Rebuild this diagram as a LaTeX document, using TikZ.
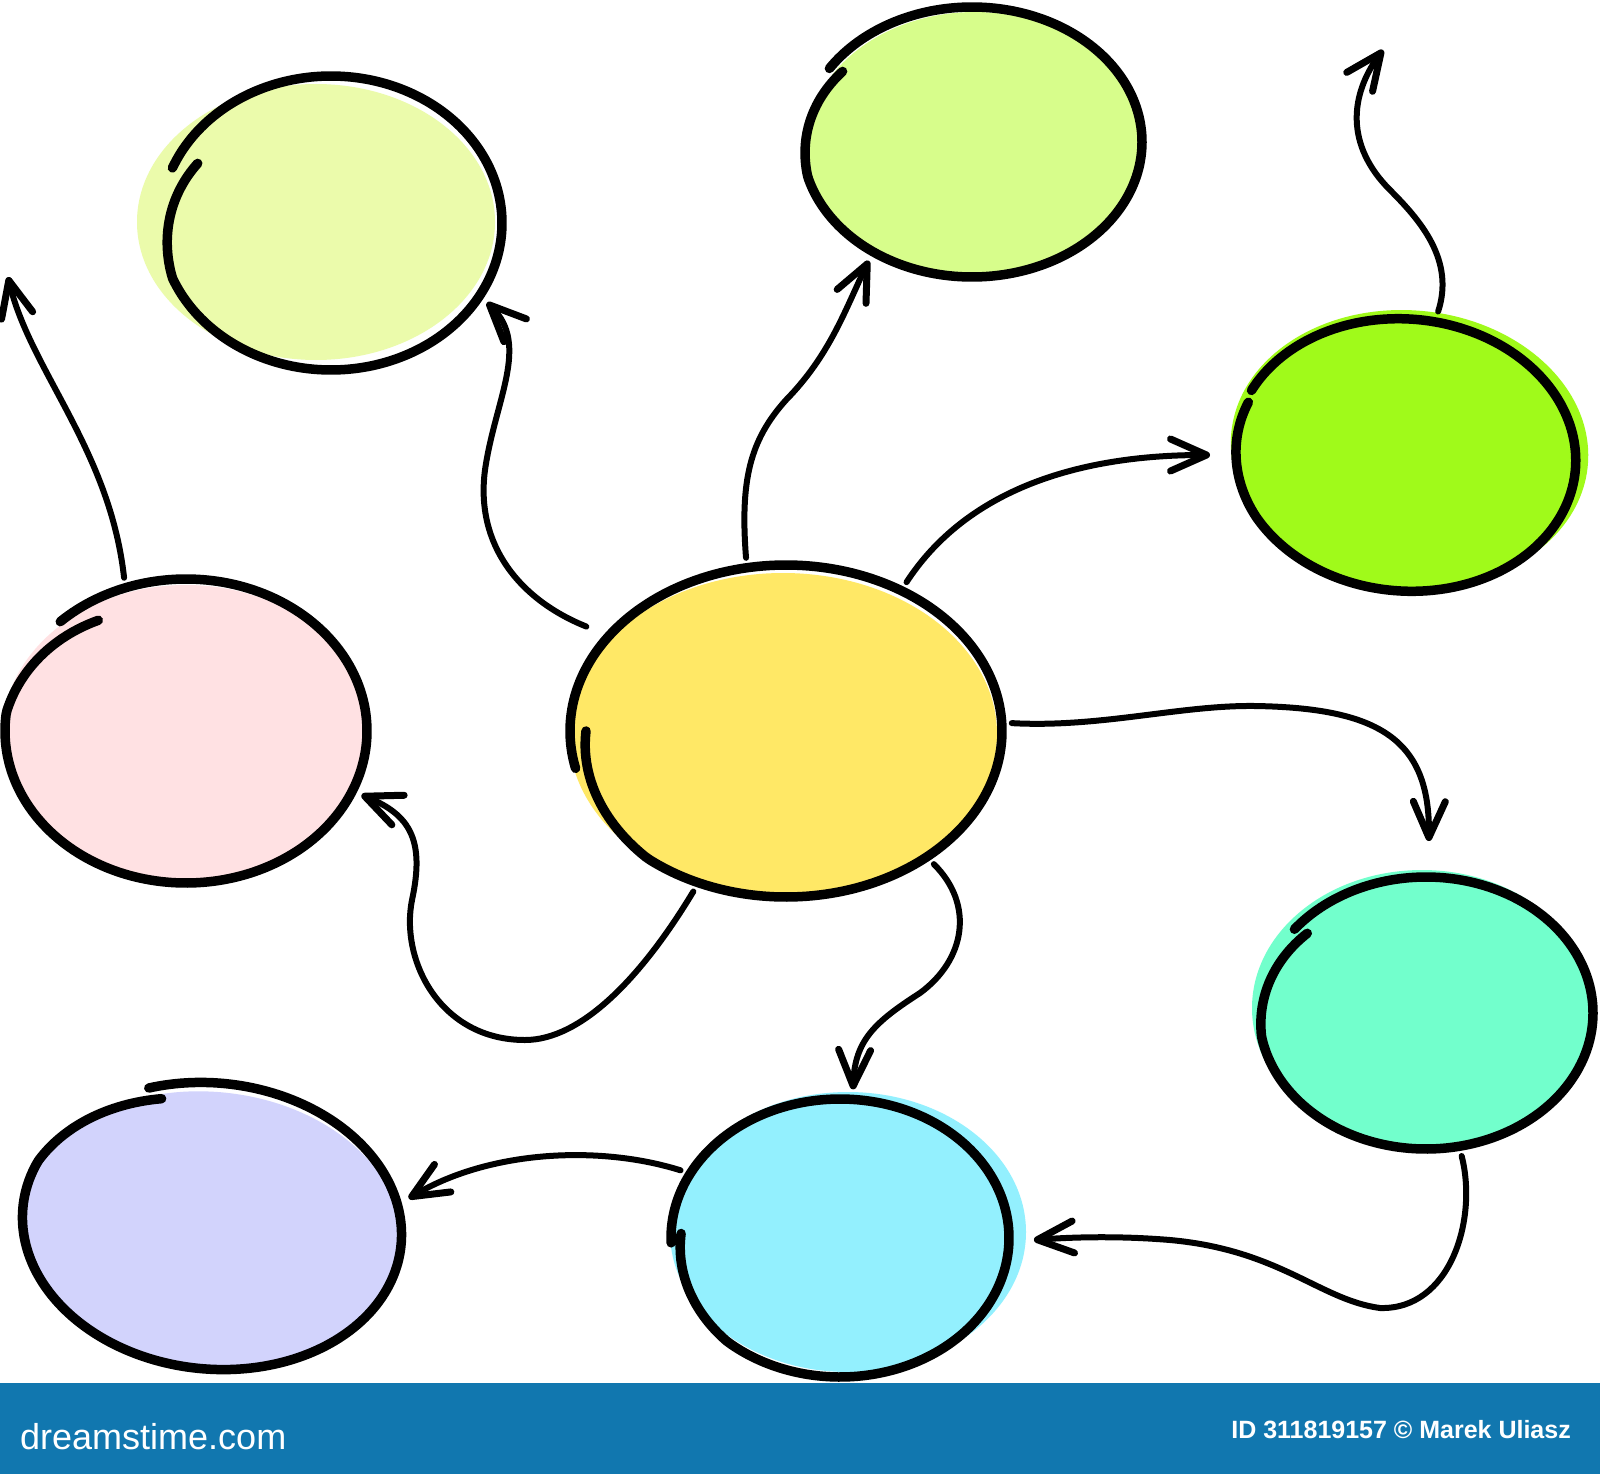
\documentclass[tikz,border=0pt]{standalone}
\usepackage{fontspec}
\newfontfamily\bannerfont{Liberation Sans}
\usetikzlibrary{arrows.meta,shapes.geometric}
\definecolor{cA}{HTML}{EBFBAB}
\definecolor{cB}{HTML}{D7FD8B}
\definecolor{cC}{HTML}{A0FA1A}
\definecolor{cD}{HTML}{FFE866}
\definecolor{cE}{HTML}{FFE1E3}
\definecolor{cF}{HTML}{72FFCC}
\definecolor{cG}{HTML}{93F0FE}
\definecolor{cH}{HTML}{D2D3FC}
\definecolor{bannerblue}{HTML}{1177AF}
\tikzset{
  spot/.style={ellipse, inner sep=0pt, outer sep=10pt, draw=none},
  ring/.style={line width=9.5pt, line cap=round, line join=round, draw=black},
  conn/.style={line width=6pt, line cap=round, draw=black,
    -{Straight Barb[length=36pt,width=32pt,line width=7pt,round]}},
  bannertext/.style={text=white, inner sep=0pt},
}
% rx, ry, start angle, sweep, inward offset at start
\newcommand\handring[5]{%
  \draw[ring] plot[domain=#3:#3+#4, samples=220]
    ({(#1+#5*(min(1,(\x-(#3))/50)-1))*cos(\x)},
     {-(#2+#5*(min(1,(\x-(#3))/50)-1))*sin(\x)});
}
\begin{document}
\begin{tikzpicture}[x=1pt, y=-1pt]
\useasboundingbox (0,0) rectangle (1600,1474);
\fill[white] (0,0) rectangle (1600,1474);

% invisible named ellipses
\node[spot, minimum width=342pt, minimum height=294pt] (e1) at (331,223) {};
\node[spot, minimum width=340pt, minimum height=270pt] (e2) at (972,142) {};
\node[spot, minimum width=342pt, minimum height=272pt] (e3) at (1405,455) {};
\node[spot, minimum width=432pt, minimum height=332pt] (e4) at (786,731) {};
\node[spot, minimum width=362pt, minimum height=304pt] (e5) at (186,731) {};
\node[spot, minimum width=334pt, minimum height=272pt] (e6) at (1426,1013) {};
\node[spot, minimum width=338pt, minimum height=278pt] (e7) at (840,1238) {};
\node[spot, minimum width=380pt, minimum height=286pt] (e8) at (212,1226) {};

% hand-drawn ellipses
\begin{scope}[shift={(e1.center)}]
  \fill[cA] (-15,-1) ellipse [x radius=179, y radius=138];
  \handring{171}{147}{152}{366}{20}
\end{scope}
\begin{scope}[shift={(e2.center)}]
  \fill[cB] (3,3) ellipse [x radius=168, y radius=133];
  \handring{170}{135}{145}{362}{12}
\end{scope}
\begin{scope}[shift={(e3.center)}, rotate=-5]
  \fill[cC] (4,-6) ellipse [x radius=179, y radius=139];
  \handring{171}{136}{163}{355}{3}
\end{scope}
\begin{scope}[shift={(e4.center)}]
  \fill[cD] (-3,3) ellipse [x radius=214, y radius=161];
  \handring{216}{166}{180}{373}{16}
\end{scope}
\begin{scope}[shift={(e5.center)}]
  \fill[cE] (0,4) ellipse [x radius=184, y radius=150];
  \handring{181}{152}{123}{371}{20}
\end{scope}
\begin{scope}[shift={(e6.center)}]
  \fill[cF] (-4,-5) ellipse [x radius=170, y radius=138];
  \handring{167}{136}{140}{362}{12}
\end{scope}
\begin{scope}[shift={(e7.center)}]
  \fill[cG] (8,-6) ellipse [x radius=178, y radius=140];
  \handring{169}{139}{178}{364}{10}
\end{scope}
\begin{scope}[shift={(e8.center)}, rotate=-6]
  \fill[cH] (0,4) ellipse [x radius=190, y radius=138];
  \handring{190}{143}{111}{363}{13}
\end{scope}

% free ends
\coordinate (outA) at (8,277);
\coordinate (outE) at (1383,50);

% connectors
\draw[conn] (e5.112) .. controls (110,450) and (30,370) .. (outA);
\draw[conn, shorten <=14pt] (e4.152) .. controls (520,600) and (475,545) .. (485,470)
      .. controls (495,400) and (530,345) .. (e1.-27);
\draw[conn] (e4.103) .. controls (740,480) and (750,440) .. (786,400)
      .. controls (830,355) and (845,310) .. (e2.229);
\draw[conn, shorten >=14pt] (e4.51) .. controls (960,500) and (1060,455) .. (e3.180);
\draw[conn] (e3.77) .. controls (1455,260) and (1420,220) .. (1390,190)
      .. controls (1345,145) and (1350,95) .. (outE);
\draw[conn, shorten >=26pt] (e4.2) .. controls (1100,728) and (1180,705) .. (1255,706)
      .. controls (1380,708) and (1430,740) .. (e6.89);
\draw[conn] (e4.-42) .. controls (975,905) and (965,960) .. (920,993)
      .. controls (875,1022) and (855,1040) .. (e7.85);
\draw[conn] (e4.240) .. controls (640,980) and (580,1040) .. (525,1040)
      .. controls (440,1040) and (400,960) .. (412,900)
      .. controls (425,840) and (410,815) .. (e5.-20);
\draw[conn, shorten >=15pt] (e6.-76) .. controls (1478,1220) and (1450,1310) .. (1380,1308)
      .. controls (1320,1300) and (1280,1250) .. (1170,1240)
      .. controls (1110,1235) and (1060,1238) .. (e7.-1);
\draw[conn] (e7.157) .. controls (600,1145) and (490,1150) .. (e8.8);

% banner
\fill[bannerblue] (0,1383) rectangle (1600,1474);
\node[bannertext, anchor=base west, font=\bannerfont\fontsize{36}{40}\selectfont]
  (logo) at (20,1449) {dreamstime.com};
\node[bannertext, anchor=base east, font=\bannerfont\bfseries\fontsize{25}{30}\selectfont]
  (credit) at (1571,1438) {ID 311819157 © Marek Uliasz};
\end{tikzpicture}
\end{document}
